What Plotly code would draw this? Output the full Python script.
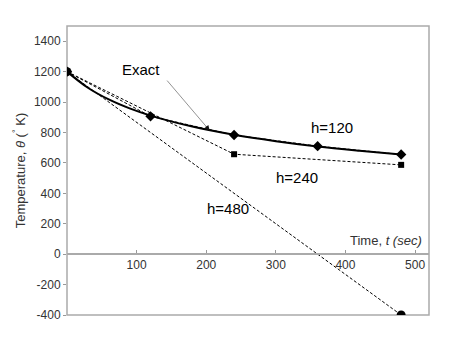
import plotly.graph_objects as go

# Data
t_exact = [0, 30, 60, 90, 120, 180, 240, 300, 360, 420, 480]
theta_exact = [1200, 1094, 1017, 958, 911, 839, 785, 743, 708, 680, 655]

t_h120 = [0, 120, 240, 360, 480]
theta_h120 = [1200, 906, 783, 710, 655]

t_h240 = [0, 240, 480]
theta_h240 = [1200, 657, 587]

t_h480 = [0, 480]
theta_h480 = [1200, -400]

x_ticks = [100, 200, 300, 400, 500]
y_ticks = [-400, -200, 0, 200, 400, 600, 800, 1000, 1200, 1400]
y_tick_labels = [str(v) for v in y_ticks]

FONT = "Liberation Sans, Arial, sans-serif"
y_lo, y_hi = -400, 1500

fig = go.Figure()
fig.add_trace(go.Scatter(x=t_exact, y=theta_exact, mode="lines",
                         line=dict(color="black", width=2, shape="spline"),
                         showlegend=False))
fig.add_trace(go.Scatter(x=t_h120, y=theta_h120, mode="lines+markers",
                         line=dict(color="black", width=1, dash="3px,2px"),
                         marker=dict(symbol="diamond", size=8, color="black"),
                         showlegend=False))
fig.add_trace(go.Scatter(x=t_h240, y=theta_h240, mode="lines+markers",
                         line=dict(color="black", width=1, dash="3px,2px"),
                         marker=dict(symbol="square", size=6, color="black"),
                         showlegend=False))
fig.add_trace(go.Scatter(x=t_h480, y=theta_h480, mode="lines+markers",
                         line=dict(color="black", width=1, dash="3px,2px"),
                         marker=dict(symbol="circle", size=9, color="black"),
                         showlegend=False))

fig.update_layout(
    width=466, height=347,
    margin=dict(l=54, r=45, t=18, b=40),
    paper_bgcolor="white", plot_bgcolor="white",
    font=dict(family=FONT, size=12, color="#333333"),
    xaxis=dict(range=[0, 520], tickvals=x_ticks, ticks="inside", ticklen=3,
               tickcolor="#999999", showline=True, linecolor="#aaaaaa",
               linewidth=1.5, anchor="free",
               position=(0 - y_lo) / (y_hi - y_lo),
               showgrid=False, zeroline=False,
               tickfont=dict(size=12, color="#333333")),
    yaxis=dict(range=[y_lo, y_hi], tickvals=y_ticks, ticktext=y_tick_labels,
               ticks="outside", ticklen=3,
               tickcolor="#999999", showline=False, showgrid=False,
               zeroline=False, tickfont=dict(size=12, color="#333333"),
               title=dict(text="Temperature, <i>θ</i> (<sup>°</sup> K)",
                          font=dict(size=13, color="#333333"), standoff=5)),
    shapes=[dict(type="rect", xref="paper", yref="paper", x0=0, x1=1, y0=0, y1=1,
                 line=dict(color="#aaaaaa", width=1.5), layer="below")],
    annotations=[
        dict(x=203, y=823, xref="x", yref="y", ax=142, ay=1151, axref="x",
             ayref="y", text="", showarrow=True, arrowhead=0,
             arrowwidth=0.8, arrowcolor="#777777"),
        dict(x=205, y=812, xref="x", yref="y", ax=198, ay=850, axref="x",
             ayref="y", text="", showarrow=True, arrowhead=2, arrowsize=1.3,
             arrowwidth=0.8, arrowcolor="#111111"),
        dict(x=106, y=1217, xref="x", yref="y", text="Exact", showarrow=False,
             font=dict(size=15, color="black")),
        dict(x=381, y=836, xref="x", yref="y", text="h=120", showarrow=False,
             font=dict(size=15, color="black")),
        dict(x=330, y=501, xref="x", yref="y", text="h=240", showarrow=False,
             font=dict(size=15, color="black")),
        dict(x=231, y=297, xref="x", yref="y", text="h=480", showarrow=False,
             font=dict(size=15, color="black")),
        dict(x=513, y=93, xref="x", yref="y", xanchor="right",
             text="Time, <i>t (sec)</i>", showarrow=False,
             font=dict(size=13, color="#333333")),
    ],
)

fig.write_html("out.html")
